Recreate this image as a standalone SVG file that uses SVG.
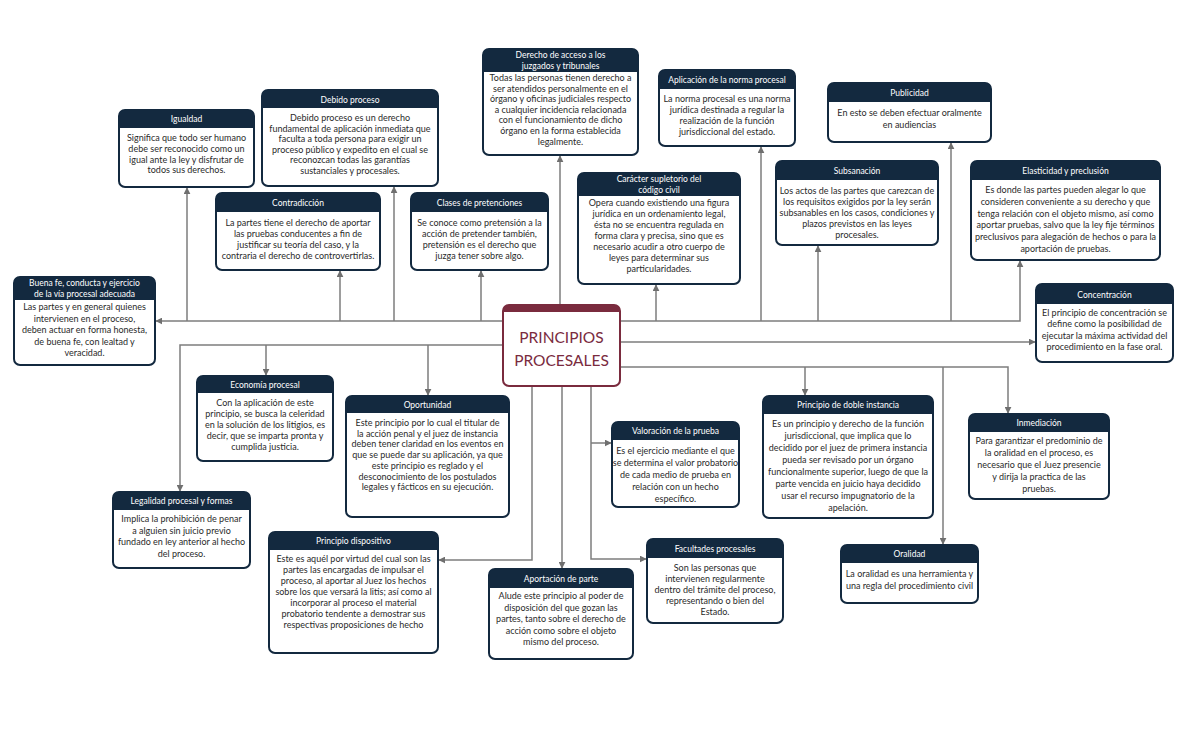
<svg xmlns="http://www.w3.org/2000/svg" width="1200" height="730" viewBox="0 0 1200 730">
<defs>
<style>
.box{fill:#fff;stroke:#13293f;stroke-width:2}
.hd{fill:#13293f}
.t{font-family:Lato,"Open Sans",sans-serif;font-size:8.5px;fill:#fff;text-anchor:middle}
.b{font-family:Lato,"Open Sans",sans-serif;font-size:9px;fill:#2a2a2a;text-anchor:middle}
.c{fill:none;stroke:#7d7d7d;stroke-width:1.5}
.main{font-family:Lato,"Open Sans",sans-serif;font-size:15.5px;fill:#7a2b3e;text-anchor:middle}
</style>
<marker id="ar" viewBox="0 0 10 10" refX="9" refY="5" markerWidth="7" markerHeight="7" markerUnits="userSpaceOnUse" orient="auto">
<path d="M0,0 L10,5 L0,10 Z" fill="#6f6f6f"/>
</marker>
</defs>
<rect width="1200" height="730" fill="#fff"/>

<g id="connectors">
<path class="c" d="M503,321 H156" marker-end="url(#ar)"/>
<path class="c" d="M187,321 V188" marker-end="url(#ar)"/>
<path class="c" d="M340,321 V271" marker-end="url(#ar)"/>
<path class="c" d="M394,321 V187" marker-end="url(#ar)"/>
<path class="c" d="M481,321 V271" marker-end="url(#ar)"/>
<path class="c" d="M560,305 V156" marker-end="url(#ar)"/>
<path class="c" d="M620,321 H1020 V261" marker-end="url(#ar)"/>
<path class="c" d="M656,321 V285" marker-end="url(#ar)"/>
<path class="c" d="M761,321 V147" marker-end="url(#ar)"/>
<path class="c" d="M818,321 V246" marker-end="url(#ar)"/>
<path class="c" d="M951,321 V143" marker-end="url(#ar)"/>
<path class="c" d="M620,342 H1035" marker-end="url(#ar)"/>
<path class="c" d="M503,345 H180 V491" marker-end="url(#ar)"/>
<path class="c" d="M266,345 V375" marker-end="url(#ar)"/>
<path class="c" d="M428,345 V395" marker-end="url(#ar)"/>
<path class="c" d="M620,367 H1008 V413" marker-end="url(#ar)"/>
<path class="c" d="M805,367 V395" marker-end="url(#ar)"/>
<path class="c" d="M943,367 V544" marker-end="url(#ar)"/>
<path class="c" d="M532,386 V560 H439" marker-end="url(#ar)"/>
<path class="c" d="M562,386 V568" marker-end="url(#ar)"/>
<path class="c" d="M591,386 V559 H646" marker-end="url(#ar)"/>
<path class="c" d="M591,443 H611" marker-end="url(#ar)"/>
</g>

<g id="center">
<rect x="503" y="305" width="117" height="81" rx="6" fill="#fff" stroke="#7a2b3e" stroke-width="2"/>
<path d="M503,312 V311 Q503,305 509,305 H614 Q620,305 620,311 V312 Z" fill="#7a2b3e"/>
<text class="main" x="561.5" y="343">PRINCIPIOS</text>
<text class="main" x="561.5" y="366">PROCESALES</text>
</g>

<g id="igualdad">
<rect class="box" x="119" y="110" width="135" height="77" rx="6"/>
<path class="hd" d="M119,128 V116 Q119,110 125,110 H248 Q254,110 254,116 V128 Z"/>
<text class="t" x="186.5" y="122">Igualdad</text>
<text class="b" x="186.5" y="141">Significa que todo ser humano</text>
<text class="b" x="186.5" y="151.8">debe ser reconocido como un</text>
<text class="b" x="186.5" y="162.6">igual ante la ley y disfrutar de</text>
<text class="b" x="186.5" y="173.4">todos sus derechos.</text>
</g>

<g id="debido">
<rect class="box" x="262" y="90" width="176" height="96" rx="6"/>
<path class="hd" d="M262,108 V96 Q262,90 268,90 H432 Q438,90 438,96 V108 Z"/>
<text class="t" x="350" y="102.5">Debido proceso</text>
<text class="b" x="350" y="121">Debido proceso es un derecho</text>
<text class="b" x="350" y="131.6">fundamental de aplicación inmediata que</text>
<text class="b" x="350" y="142.2">faculta a toda persona para exigir un</text>
<text class="b" x="350" y="152.8">proceso público y expedito en el cual se</text>
<text class="b" x="350" y="163.4">reconozcan todas las garantías</text>
<text class="b" x="350" y="174">sustanciales y procesales.</text>
</g>

<g id="acceso">
<rect class="box" x="483" y="49" width="155" height="106" rx="6"/>
<path class="hd" d="M483,72 V55 Q483,49 489,49 H632 Q638,49 638,55 V72 Z"/>
<text class="t" x="560.5" y="58">Derecho de acceso a los</text>
<text class="t" x="560.5" y="69">juzgados y tribunales</text>
<text class="b" x="560.5" y="81">Todas las personas tienen derecho a</text>
<text class="b" x="560.5" y="91.6">ser atendidos personalmente en el</text>
<text class="b" x="560.5" y="102.2">órgano y oficinas judiciales respecto</text>
<text class="b" x="560.5" y="112.8">a cualquier incidencia relacionada</text>
<text class="b" x="560.5" y="123.4">con el funcionamiento de dicho</text>
<text class="b" x="560.5" y="134">órgano en la forma establecida</text>
<text class="b" x="560.5" y="144.6">legalmente.</text>
</g>

<g id="aplicacion">
<rect class="box" x="659" y="70" width="136" height="76" rx="6"/>
<path class="hd" d="M659,89 V76 Q659,70 665,70 H789 Q795,70 795,76 V89 Z"/>
<text class="t" x="727" y="82.5">Aplicación de la norma procesal</text>
<text class="b" x="727" y="102">La norma procesal es una norma</text>
<text class="b" x="727" y="113">jurídica destinada a regular la</text>
<text class="b" x="727" y="124">realización de la función</text>
<text class="b" x="727" y="135">jurisdiccional del estado.</text>
</g>

<g id="publicidad">
<rect class="box" x="828" y="83" width="163" height="59" rx="6"/>
<path class="hd" d="M828,102 V89 Q828,83 834,83 H985 Q991,83 991,89 V102 Z"/>
<text class="t" x="909.5" y="95.5">Publicidad</text>
<text class="b" x="909.5" y="116">En esto se deben efectuar oralmente</text>
<text class="b" x="909.5" y="128">en audiencias</text>
</g>

<g id="subsanacion">
<rect class="box" x="776" y="161" width="162" height="84" rx="6"/>
<path class="hd" d="M776,180 V167 Q776,161 782,161 H932 Q938,161 938,167 V180 Z"/>
<text class="t" x="857" y="174">Subsanación</text>
<text class="b" x="857" y="194">Los actos de las partes que carezcan de</text>
<text class="b" x="857" y="205">los requisitos exigidos por la ley serán</text>
<text class="b" x="857" y="216">subsanables en los casos, condiciones y</text>
<text class="b" x="857" y="227">plazos previstos en las leyes</text>
<text class="b" x="857" y="238">procesales.</text>
</g>

<g id="elasticidad">
<rect class="box" x="971" y="161" width="189" height="99" rx="6"/>
<path class="hd" d="M971,180 V167 Q971,161 977,161 H1154 Q1160,161 1160,167 V180 Z"/>
<text class="t" x="1065.5" y="174">Elasticidad y preclusión</text>
<text class="b" x="1065.5" y="193">Es donde las partes pueden alegar lo que</text>
<text class="b" x="1065.5" y="204.8">consideren conveniente a su derecho y que</text>
<text class="b" x="1065.5" y="216.6">tenga relación con el objeto mismo, así como</text>
<text class="b" x="1065.5" y="228.4">aportar pruebas, salvo que la ley fije términos</text>
<text class="b" x="1065.5" y="240.2">preclusivos para alegación de hechos o para la</text>
<text class="b" x="1065.5" y="252">aportación de pruebas.</text>
</g>

<g id="contradiccion">
<rect class="box" x="216" y="193" width="164" height="77" rx="6"/>
<path class="hd" d="M216,212 V199 Q216,193 222,193 H374 Q380,193 380,199 V212 Z"/>
<text class="t" x="298" y="206">Contradicción</text>
<text class="b" x="298" y="226">La partes tiene el derecho de aportar</text>
<text class="b" x="298" y="237">las pruebas conducentes a fin de</text>
<text class="b" x="298" y="248">justificar su teoría del caso, y la</text>
<text class="b" x="298" y="259">contraria el derecho de controvertirlas.</text>
</g>

<g id="clases">
<rect class="box" x="411" y="193" width="137" height="77" rx="6"/>
<path class="hd" d="M411,212 V199 Q411,193 417,193 H542 Q548,193 548,199 V212 Z"/>
<text class="t" x="479.5" y="206">Clases de pretenciones</text>
<text class="b" x="479.5" y="226">Se conoce como pretensión  a la</text>
<text class="b" x="479.5" y="237">acción de pretender también,</text>
<text class="b" x="479.5" y="248">pretensión es el derecho que</text>
<text class="b" x="479.5" y="259">juzga tener sobre algo.</text>
</g>

<g id="caracter">
<rect class="box" x="578" y="173" width="162" height="111" rx="6"/>
<path class="hd" d="M578,196 V179 Q578,173 584,173 H734 Q740,173 740,179 V196 Z"/>
<text class="t" x="659" y="182">Carácter supletorio del</text>
<text class="t" x="659" y="193">código civil</text>
<text class="b" x="659" y="206">Opera cuando existiendo una figura</text>
<text class="b" x="659" y="217">jurídica en un ordenamiento legal,</text>
<text class="b" x="659" y="228">ésta no se encuentra regulada en</text>
<text class="b" x="659" y="239">forma clara y precisa, sino que es</text>
<text class="b" x="659" y="250">necesario acudir a otro cuerpo de</text>
<text class="b" x="659" y="261">leyes para determinar sus</text>
<text class="b" x="659" y="272">particularidades.</text>
</g>

<g id="buenafe">
<rect class="box" x="14" y="277" width="141" height="88" rx="6"/>
<path class="hd" d="M14,300 V283 Q14,277 20,277 H149 Q155,277 155,283 V300 Z"/>
<text class="t" x="84.5" y="286">Buena fe, conducta y ejercicio</text>
<text class="t" x="84.5" y="297">de la vía procesal adecuada</text>
<text class="b" x="84.5" y="310">Las partes y en general quienes</text>
<text class="b" x="84.5" y="321.5">intervienen en el proceso,</text>
<text class="b" x="84.5" y="333">deben actuar en forma honesta,</text>
<text class="b" x="84.5" y="344.5">de buena fe, con lealtad y</text>
<text class="b" x="84.5" y="356">veracidad.</text>
</g>

<g id="concentracion">
<rect class="box" x="1036" y="284" width="137" height="78" rx="6"/>
<path class="hd" d="M1036,304 V290 Q1036,284 1042,284 H1167 Q1173,284 1173,290 V304 Z"/>
<text class="t" x="1104.5" y="297.5">Concentración</text>
<text class="b" x="1104.5" y="316">El principio de concentración se</text>
<text class="b" x="1104.5" y="327.3">define como la posibilidad de</text>
<text class="b" x="1104.5" y="338.6">ejecutar la máxima actividad del</text>
<text class="b" x="1104.5" y="349.9">procedimiento en la fase oral.</text>
</g>

<g id="economia">
<rect class="box" x="197" y="376" width="136" height="85" rx="6"/>
<path class="hd" d="M197,393 V382 Q197,376 203,376 H327 Q333,376 333,382 V393 Z"/>
<text class="t" x="265" y="387.5">Economía procesal</text>
<text class="b" x="265" y="406">Con la aplicación de este</text>
<text class="b" x="265" y="417">principio, se busca la celeridad</text>
<text class="b" x="265" y="428">en la solución de los litigios, es</text>
<text class="b" x="265" y="439">decir, que se imparta pronta y</text>
<text class="b" x="265" y="450">cumplida justicia.</text>
</g>

<g id="oportunidad">
<rect class="box" x="346" y="396" width="163" height="121" rx="6"/>
<path class="hd" d="M346,413 V402 Q346,396 352,396 H503 Q509,396 509,402 V413 Z"/>
<text class="t" x="427.5" y="407.5">Oportunidad</text>
<text class="b" x="427.5" y="426">Este principio por lo cual  el titular de</text>
<text class="b" x="427.5" y="436.7">la acción penal y el juez de instancia</text>
<text class="b" x="427.5" y="447.4">deben tener claridad en los eventos en</text>
<text class="b" x="427.5" y="458.1">que se puede dar su aplicación, ya que</text>
<text class="b" x="427.5" y="468.8">este principio es reglado y el</text>
<text class="b" x="427.5" y="479.5">desconocimiento de los postulados</text>
<text class="b" x="427.5" y="490.2">legales y fácticos en su ejecución.</text>
</g>

<g id="valoracion">
<rect class="box" x="612" y="422" width="127" height="85" rx="6"/>
<path class="hd" d="M612,440 V428 Q612,422 618,422 H733 Q739,422 739,428 V440 Z"/>
<text class="t" x="675.5" y="434">Valoración de la prueba</text>
<text class="b" x="675.5" y="454">Es el ejercicio mediante el que</text>
<text class="b" x="675.5" y="466">se determina el valor probatorio</text>
<text class="b" x="675.5" y="478">de cada medio de prueba en</text>
<text class="b" x="675.5" y="490">relación con un hecho</text>
<text class="b" x="675.5" y="502">específico.</text>
</g>

<g id="dobleinstancia">
<rect class="box" x="763" y="396" width="170" height="122" rx="6"/>
<path class="hd" d="M763,414 V402 Q763,396 769,396 H927 Q933,396 933,402 V414 Z"/>
<text class="t" x="848" y="408">Principio de doble instancia</text>
<text class="b" x="848" y="427">Es un principio  y derecho de la función</text>
<text class="b" x="848" y="439">jurisdiccional, que implica que lo</text>
<text class="b" x="848" y="451">decidido por el juez de primera instancia</text>
<text class="b" x="848" y="463">pueda ser revisado por un órgano</text>
<text class="b" x="848" y="475">funcionalmente superior, luego de que la</text>
<text class="b" x="848" y="487">parte vencida en juicio haya decidido</text>
<text class="b" x="848" y="499">usar el recurso impugnatorio de la</text>
<text class="b" x="848" y="511">apelación.</text>
</g>

<g id="inmediacion">
<rect class="box" x="969" y="414" width="140" height="85" rx="6"/>
<path class="hd" d="M969,432 V420 Q969,414 975,414 H1103 Q1109,414 1109,420 V432 Z"/>
<text class="t" x="1039" y="426">Inmediación</text>
<text class="b" x="1039" y="444">Para garantizar el predominio de</text>
<text class="b" x="1039" y="456">la oralidad en el proceso, es</text>
<text class="b" x="1039" y="468">necesario que el Juez presencie</text>
<text class="b" x="1039" y="480">y dirija la practica de las</text>
<text class="b" x="1039" y="492">pruebas.</text>
</g>

<g id="legalidad">
<rect class="box" x="113" y="492" width="137" height="76" rx="6"/>
<path class="hd" d="M113,510 V498 Q113,492 119,492 H244 Q250,492 250,498 V510 Z"/>
<text class="t" x="181.5" y="504">Legalidad procesal y formas</text>
<text class="b" x="181.5" y="522">Implica  la prohibición de penar</text>
<text class="b" x="181.5" y="533.5">a alguien sin juicio previo</text>
<text class="b" x="181.5" y="545">fundado en ley anterior al hecho</text>
<text class="b" x="181.5" y="556.5">del proceso.</text>
</g>

<g id="dispositivo">
<rect class="box" x="269" y="532" width="169" height="121" rx="6"/>
<path class="hd" d="M269,550 V538 Q269,532 275,532 H432 Q438,532 438,538 V550 Z"/>
<text class="t" x="353.5" y="544">Principio dispositivo</text>
<text class="b" x="353.5" y="562">Este es aquél por virtud del cual son las</text>
<text class="b" x="353.5" y="573">partes las encargadas de impulsar el</text>
<text class="b" x="353.5" y="584">proceso, al aportar al Juez los hechos</text>
<text class="b" x="353.5" y="595">sobre los que versará la litis; así como al</text>
<text class="b" x="353.5" y="606">incorporar al proceso  el material</text>
<text class="b" x="353.5" y="617">probatorio tendente a demostrar sus</text>
<text class="b" x="353.5" y="628">respectivas proposiciones de hecho</text>
</g>

<g id="aportacion">
<rect class="box" x="489" y="569" width="144" height="90" rx="6"/>
<path class="hd" d="M489,588 V575 Q489,569 495,569 H627 Q633,569 633,575 V588 Z"/>
<text class="t" x="561" y="581.5">Aportación de parte</text>
<text class="b" x="561" y="599">Alude este principio al poder de</text>
<text class="b" x="561" y="610.5">disposición del que gozan las</text>
<text class="b" x="561" y="622">partes, tanto sobre el derecho de</text>
<text class="b" x="561" y="633.5">acción como sobre el objeto</text>
<text class="b" x="561" y="645">mismo del proceso.</text>
</g>

<g id="facultades">
<rect class="box" x="647" y="539" width="136" height="84" rx="6"/>
<path class="hd" d="M647,558 V545 Q647,539 653,539 H777 Q783,539 783,545 V558 Z"/>
<text class="t" x="715" y="551.5">Facultades procesales</text>
<text class="b" x="715" y="571">Son las personas que</text>
<text class="b" x="715" y="582">intervienen regularmente</text>
<text class="b" x="715" y="593">dentro del trámite del proceso,</text>
<text class="b" x="715" y="604">representando o bien del</text>
<text class="b" x="715" y="615">Estado.</text>
</g>

<g id="oralidad">
<rect class="box" x="841" y="545" width="137" height="58" rx="6"/>
<path class="hd" d="M841,563 V551 Q841,545 847,545 H972 Q978,545 978,551 V563 Z"/>
<text class="t" x="909.5" y="557">Oralidad</text>
<text class="b" x="909.5" y="577">La oralidad es una herramienta y</text>
<text class="b" x="909.5" y="589">una regla del procedimiento civil</text>
</g>
</svg>
